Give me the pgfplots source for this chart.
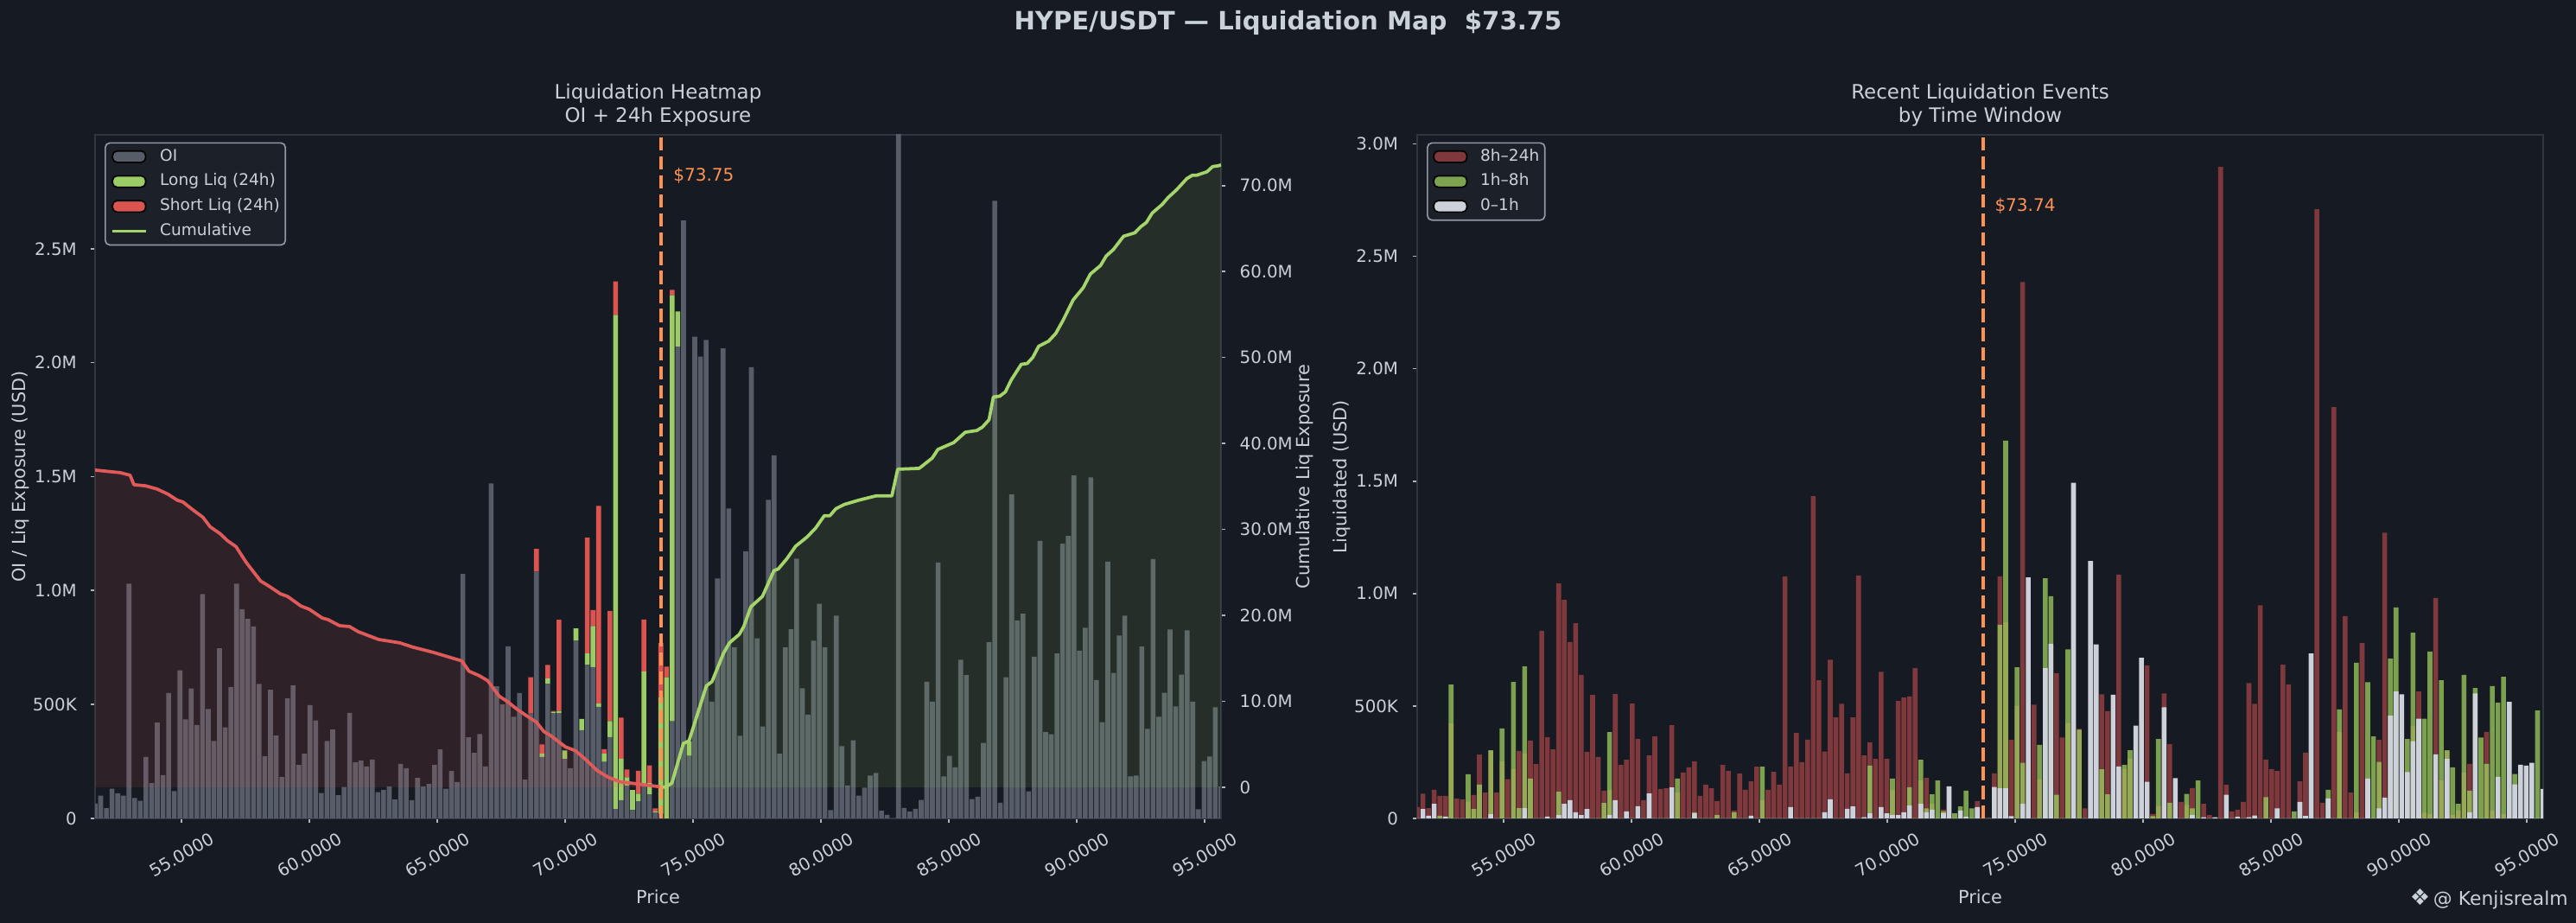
\documentclass[border=0pt]{standalone}
\usepackage{pgfplots}
\pgfplotsset{compat=1.18}
\usepackage{pgfplotstable}
\usepackage{fontspec}
\setmainfont{DejaVu Sans}
\definecolor{bgc}{HTML}{161A22}
\definecolor{spinec}{HTML}{30363D}
\definecolor{txtc}{HTML}{C9D1D9}
\definecolor{tickc}{HTML}{AEB5BD}
\definecolor{oic}{HTML}{565D68}
\definecolor{longc}{HTML}{9CCC65}
\definecolor{shortc}{HTML}{DB5450}
\definecolor{redline}{HTML}{E05A5A}
\definecolor{grline}{HTML}{A5D46A}
\definecolor{orangec}{HTML}{FF9252}
\definecolor{rwin}{HTML}{7F383C}
\definecolor{gwin}{HTML}{9FCF5E}
\definecolor{lwin}{HTML}{CDD2DA}
\definecolor{legbg}{HTML}{1C2129}
\definecolor{legc}{HTML}{9198A1}

\pgfplotsset{
  patchleg/.style={legend image code/.code={\fill[##1] (0pt,-3.15pt) rectangle (18.4pt,3.15pt);}},
  lineleg/.style={legend image code/.code={\draw[##1] (0pt,0pt) -- (18.4pt,0pt);}},
  base/.style={scale only axis, width=625.44pt, height=379.68pt, anchor=south west,
    xmin=51.62, xmax=95.64,
    axis line style={spinec, line width=0.8pt},
    tick align=outside, major tick length=2.6pt, tick style={tickc, line width=0.8pt},
    tick label style={font=\fontsize{9.5}{11.4}\selectfont, text=txtc},
    /pgf/number format/assume math mode=true,
    xtick={55,60,65,70,75,80,85,90,95},
    xticklabels={55.0000,60.0000,65.0000,70.0000,75.0000,80.0000,85.0000,90.0000,95.0000},
    xticklabel style={yshift=-17.7pt, rotate=30, anchor=center},
    legend cell align=left,
    legend style={at={(0,1)}, anchor=north west, xshift=5.3pt, yshift=-4.1pt,
      draw=legc, fill=legbg, rounded corners=2.5pt, line width=0.8pt,
      inner xsep=3.1pt, inner ysep=3.4pt, row sep=5.3pt, column sep=7.1pt,
      font=\fontsize{8.9}{10.5}\selectfont, text=txtc,
      nodes={inner sep=0pt, text height=6.6pt, text depth=1.9pt}},
  },
}

\pgfplotstableread{
i oi lg sh
0 0.065 0 0
1 0.100 0 0
2 0.045 0 0
3 0.130 0 0
4 0.110 0 0
5 0.100 0 0
6 1.030 0 0
7 0.090 0 0
8 0.077 0 0
9 0.270 0 0
10 0.155 0 0
11 0.420 0 0
12 0.190 0 0
13 0.550 0 0
14 0.120 0 0
15 0.650 0 0
16 0.435 0 0
17 0.570 0 0
18 0.410 0 0
19 0.985 0 0
20 0.480 0 0
21 0.340 0 0
22 0.747 0 0
23 0.400 0 0
24 0.577 0 0
25 1.030 0 0
26 0.918 0 0
27 0.876 0 0
28 0.842 0 0
29 0.590 0 0
30 0.273 0 0
31 0.565 0 0
32 0.364 0 0
33 0.182 0 0
34 0.527 0 0
35 0.584 0 0
36 0.235 0 0
37 0.284 0 0
38 0.497 0 0
39 0.430 0 0
40 0.111 0 0
41 0.340 0 0
42 0.390 0 0
43 0.102 0 0
44 0.138 0 0
45 0.463 0 0
46 0.246 0 0
47 0.254 0 0
48 0.228 0 0
49 0.258 0 0
50 0.115 0 0
51 0.125 0 0
52 0.140 0 0
53 0.083 0 0
54 0.239 0 0
55 0.220 0 0
56 0.080 0 0
57 0.178 0 0
58 0.140 0 0
59 0.151 0 0
60 0.235 0 0
61 0.303 0 0
62 0.130 0 0
63 0.208 0 0
64 0.160 0 0
65 1.073 0 0
66 0.356 0 0
67 0.288 0 0
68 0.370 0 0
69 0.228 0 0
70 1.470 0 0
71 0.580 0 0
72 0.500 0 0
73 0.755 0 0
74 0.446 0 0
75 0.550 0 0
76 0.170 0 0
77 0.460 0 0.160
78 1.083 0 0.100
79 0.270 0.015 0.040
80 0.590 0.024 0.060
81 0.462 0.006 0.004
82 0.462 0.010 0.400
83 0.260 0.038 0
84 0.220 0 0
85 0.780 0.054 0
86 0.387 0.050 0
87 0.674 0.050 0.508
88 0.664 0.180 0.070
89 0.490 0.014 0.867
90 0.248 0.036 0.020
91 0.357 0.070 0.484
92 0.040 2.170 0.147
93 0.080 0.182 0.180
94 0.145 0.036 0.034
95 0.036 0.089 0
96 0.075 0.034 0.100
97 0.145 0.500 0.228
98 0.105 0.050 0.078
99 0.026 0.004 0.014
100 0.020 0.510 0.240
101 0 0.620 0.046
102 0.426 1.870 0.024
103 2.070 0.155 0
104 2.624 0 0
105 0.274 0.065 0
106 2.114 0 0
107 2.027 0 0
108 2.100 0 0
109 0.512 0 0
110 1.053 0 0
111 2.063 0 0
112 1.360 0 0
113 0.750 0 0
114 0.363 0 0
115 1.172 0 0
116 1.980 0 0
117 0.790 0 0
118 0.403 0 0
119 1.398 0 0
120 1.593 0 0
121 0.284 0 0
122 0.750 0 0
123 0.830 0 0
124 1.140 0 0
125 0.571 0 0
126 0.456 0 0
127 0.780 0 0
128 0.942 0 0
129 0.750 0 0
130 0.036 0 0
131 0.890 0 0
132 0.317 0 0
133 0.145 0 0
134 0.343 0 0
135 0.100 0 0
136 0.135 0 0
137 0.188 0 0
138 0.200 0 0
139 0.034 0 0
140 0.016 0 0
141 0 0 0
142 3.300 0 0
143 0.046 0 0
144 0.030 0 0
145 0.042 0 0
146 0.081 0 0
147 0.600 0 0
148 0.512 0 0
149 1.123 0 0
150 0.184 0 0
151 0.274 0 0
152 0.224 0 0
153 0.696 0 0
154 0.629 0 0
155 0.085 0 0
156 0.095 0 0
157 0.331 0 0
158 0.773 0 0
159 2.710 0 0
160 0.069 0 0
161 0.620 0 0
162 1.422 0 0
163 0.869 0 0
164 0.898 0 0
165 0.119 0 0
166 0.710 0 0
167 1.218 0 0
168 0.379 0 0
169 0.369 0 0
170 0.724 0 0
171 1.206 0 0
172 1.240 0 0
173 1.505 0 0
174 0.736 0 0
175 0.837 0 0
176 1.497 0 0
177 0.607 0 0
178 0.422 0 0
179 1.127 0 0
180 0.639 0 0
181 0.803 0 0
182 0.890 0 0
183 0.184 0 0
184 0.188 0 0
185 0.754 0 0
186 0.393 0 0
187 1.138 0 0
188 0.446 0 0
189 0.551 0 0
190 0.829 0 0
191 0.492 0 0
192 0.631 0 0
193 0.825 0 0
194 0.512 0 0
195 0.040 0 0
196 0.252 0 0
197 0.272 0 0
198 0.488 0 0
199 0.140 0 0
}\Ltab

\pgfplotstableread{
i r g l
0 0.050 0 0
1 0.110 0 0.042
2 0.046 0 0.012
3 0.127 0 0.065
4 0.100 0.012 0
5 0.100 0 0.008
6 0.423 0.595 0
7 0.088 0 0
8 0.085 0 0
9 0.074 0.196 0
10 0.104 0.042 0
11 0.284 0.150 0
12 0.115 0 0
13 0.300 0.303 0.019
14 0.115 0 0
15 0.254 0.400 0
16 0.174 0 0
17 0.219 0.607 0
18 0.300 0.046 0
19 0.289 0.676 0.046
20 0.346 0.177 0
21 0.242 0 0
22 0.834 0 0
23 0.361 0 0.008
24 0.307 0 0
25 1.045 0.119 0.015
26 0.972 0 0.065
27 0.784 0 0.081
28 0.868 0 0.027
29 0.638 0 0.015
30 0.296 0 0.042
31 0.549 0 0
32 0.273 0 0
33 0.123 0.069 0
34 0.127 0.384 0.015
35 0.553 0 0.081
36 0.238 0 0
37 0.261 0 0.031
38 0.511 0 0
39 0.353 0 0.054
40 0.081 0 0
41 0.280 0 0.111
42 0.365 0 0
43 0.131 0 0
44 0.134 0 0
45 0.415 0 0.138
46 0.115 0.177 0
47 0.204 0 0
48 0.227 0 0
49 0.254 0.027 0.023
50 0.100 0 0
51 0.150 0 0
52 0.134 0 0
53 0.077 0.015 0
54 0.238 0 0
55 0.211 0 0
56 0.035 0.027 0
57 0.200 0 0
58 0.127 0 0
59 0.165 0 0.012
60 0.230 0 0
61 0.081 0.230 0
62 0.127 0 0
63 0.207 0 0
64 0.150 0 0
65 1.076 0 0
66 0.230 0 0.050
67 0.380 0 0
68 0.250 0 0
69 0.350 0 0
70 1.433 0 0
71 0.614 0 0
72 0.297 0 0.027
73 0.706 0 0.085
74 0.449 0 0
75 0.510 0 0
76 0.200 0 0.043
77 0.449 0 0.053
78 1.080 0 0
79 0.280 0 0.005
80 0.339 0.235 0.023
81 0.265 0 0
82 0.652 0 0.050
83 0.265 0 0.023
84 0.125 0.177 0.015
85 0.522 0 0.015
86 0.538 0 0.027
87 0.542 0.139 0.057
88 0.668 0 0
89 0.169 0.261 0.065
90 0.180 0.045 0.027
91 0.065 0.107 0.039
92 0 0.169 0
93 0.039 0.031 0.023
94 0 0 0.143
95 0 0.023 0
96 0 0.053 0.035
97 0 0.123 0.007
98 0 0.045 0
99 0.077 0 0.050
100 0 0 0
101 0 0 0
102 0.200 0 0.140
103 1.077 0.861 0.134
104 0.872 1.680 0.134
105 0.349 0 0.010
106 0.500 0.672 0
107 2.385 0.247 0.065
108 0 0 1.072
109 0.506 0 0
110 0.173 0.327 0
111 0 1.068 0.668
112 0 0.988 0.776
113 0.646 0.105 0
114 0.360 0 0
115 0.424 0.752 0
116 0 0 1.493
117 0.398 0.394 0
118 0.045 0 0
119 0 0 1.145
120 0 0 0.774
121 0.552 0.219 0
122 0.477 0.107 0
123 0 0 0.550
124 1.084 0 0.231
125 0.220 0.238 0
126 0.265 0.303 0
127 0 0 0.413
128 0 0 0.714
129 0.680 0 0.163
130 0.020 0.010 0
131 0.055 0.353 0
132 0.556 0 0.494
133 0.330 0.070 0
134 0 0 0.179
135 0.073 0 0
136 0.060 0.109 0
137 0.135 0.045 0.015
138 0 0.169 0
139 0.065 0 0.005
140 0.015 0 0
141 0 0 0.005
142 2.897 0 0
143 0.149 0 0.105
144 0.031 0 0
145 0.039 0 0.007
146 0.073 0 0
147 0.602 0 0.005
148 0.510 0 0.013
149 0.948 0 0
150 0.261 0.095 0
151 0.219 0 0
152 0.211 0 0.045
153 0.684 0 0
154 0.596 0 0
155 0 0.031 0
156 0.165 0 0.073
157 0.293 0 0.011
158 0 0 0.734
159 2.709 0 0
160 0.070 0 0
161 0 0.127 0.089
162 1.829 0 0
163 0.385 0.485 0
164 0.900 0 0
165 0.115 0 0
166 0.025 0.692 0
167 0.780 0 0
168 0 0.606 0.177
169 0 0.365 0
170 0.349 0.251 0.045
171 1.271 0 0.093
172 0 0.710 0.457
173 0 0.938 0.564
174 0 0 0.552
175 0 0.353 0.206
176 0.410 0.826 0.343
177 0.564 0 0.443
178 0.025 0.443 0
179 0.020 0.742 0
180 0.980 0 0.285
181 0.169 0.614 0
182 0.300 0.303 0.265
183 0.015 0.227 0
184 0.035 0.065 0
185 0.203 0.638 0
186 0.243 0.123 0.027
187 0 0.580 0.556
188 0 0.360 0
189 0.385 0.243 0
190 0.035 0.588 0
191 0 0.514 0.185
192 0.020 0.630 0
193 0 0 0.518
194 0 0.197 0.151
195 0 0 0.239
196 0 0 0.235
197 0 0 0.247
198 0 0.480 0
199 0 0 0.131
}\Rtab

\pgfplotstableread{
x y
51.62 36.9
52.60 36.6
52.99 36.3
53.14 35.2
53.59 35.07
54.04 34.7
54.49 34.07
54.83 33.4
55.05 33.2
55.39 32.4
55.84 31.4
56.12 30.3
56.51 29.5
56.79 28.7
57.13 28.0
57.52 26.2
58.09 24.0
58.42 23.4
58.87 22.5
59.15 22.2
59.66 21.1
60.00 20.7
60.50 19.7
60.73 19.5
61.18 18.8
61.57 18.7
61.91 18.1
62.70 17.2
63.54 16.8
64.05 16.3
64.84 15.7
65.40 15.2
65.96 14.7
66.24 13.5
66.63 13.0
66.97 12.4
67.42 10.6
67.76 9.94
68.09 9.14
68.55 8.2
68.88 7.57
69.16 6.5
69.44 6.0
70.01 4.7
70.40 4.26
70.79 3.26
71.25 1.95
71.69 1.16
72.14 0.64
72.59 0.48
73.27 0.22
73.72 0.06
}\RedCum

\pgfplotstableread{
x y
73.75 0
73.94 0.06
74.17 0.48
74.62 5.1
74.84 5.4
75.52 11.8
75.74 12.3
76.19 15.6
76.42 16.8
76.81 17.8
76.98 18.7
77.26 21.0
77.71 22.2
78.16 25.2
78.33 25.4
78.67 26.6
79.01 28.05
79.45 29.1
79.79 30.15
80.13 31.6
80.35 31.6
80.58 32.4
80.91 32.9
81.48 33.4
82.15 33.9
82.77 33.9
83.00 37.0
83.84 37.1
84.35 38.3
84.57 39.3
85.19 40.1
85.64 41.3
86.09 41.5
86.31 41.9
86.57 42.75
86.74 45.4
86.99 45.5
87.21 46.0
87.44 47.4
87.83 49.2
88.06 49.3
88.28 50.0
88.51 51.3
88.90 51.9
89.18 52.8
89.46 54.3
89.86 56.7
90.25 58.1
90.53 59.7
90.93 60.7
91.15 61.8
91.43 62.55
91.83 64.1
92.27 64.5
92.50 65.2
92.72 65.7
92.95 66.8
93.34 67.8
93.57 68.6
93.90 69.5
94.30 70.8
94.52 71.2
94.69 71.2
95.09 71.6
95.31 72.2
95.54 72.3
95.64 72.4
}\GreenCum

\begin{document}
\begin{tikzpicture}
\path[use as bounding box, fill=bgc] (0,0) rectangle (1430.88pt,512.64pt);

% ---------- left chart: primary axis (bars)
\begin{axis}[base, at={(52.8pt,58.08pt)},
  ymin=0, ymax=3.0,
  ybar stacked, bar width=0.19,
  xtick pos=bottom, ytick pos=left,
  ytick={0,0.5,1,1.5,2,2.5},
  yticklabels={0,500K,1.0M,1.5M,2.0M,2.5M},
  yticklabel style={anchor=east, inner xsep=0pt, xshift=-7.4pt},
]
\addplot[fill=oic, draw=none] table[x expr=51.62+0.2212*\thisrow{i}, y=oi]{\Ltab};
\addplot[fill=longc, draw=none] table[x expr=51.62+0.2212*\thisrow{i}, y=lg]{\Ltab};
\addplot[fill=shortc, draw=none] table[x expr=51.62+0.2212*\thisrow{i}, y=sh]{\Ltab};
\end{axis}

% ---------- left chart: secondary axis (cumulative)
\begin{axis}[base, at={(52.8pt,58.08pt)},
  ymin=-3.62, ymax=75.9,
  axis x line=none, axis y line*=right,
  ytick={0,10,20,30,40,50,60,70},
  yticklabels={0,10.0M,20.0M,30.0M,40.0M,50.0M,60.0M,70.0M},
  yticklabel style={anchor=west, inner xsep=0pt, xshift=7.6pt},
]
\addplot[fill=redline, fill opacity=0.12, draw=none, forget plot] table[x=x,y=y]{\RedCum} \closedcycle;
\addplot[fill=grline, fill opacity=0.11, draw=none, forget plot] table[x=x,y=y]{\GreenCum} \closedcycle;
\addplot[redline, line width=1.8pt, line join=round, forget plot] table[x=x,y=y]{\RedCum};
\addplot[grline, line width=1.8pt, line join=round, forget plot] table[x=x,y=y]{\GreenCum};
\addplot[orangec, line width=1.8pt, dash pattern=on 7.4pt off 3.2pt, forget plot] coordinates {(73.75,-3.62) (73.75,75.9)};
\node[text=orangec, anchor=west, inner sep=0pt, font=\fontsize{9.6}{11.5}\selectfont] at (axis cs:74.22,71.15) {\$73.75};
\addlegendimage{patchleg, fill=oic}
\addlegendentry{OI}
\addlegendimage{patchleg, fill=longc}
\addlegendentry{Long Liq (24h)}
\addlegendimage{patchleg, fill=shortc}
\addlegendentry{Short Liq (24h)}
\addlegendimage{lineleg, grline, line width=1.8pt}
\addlegendentry{Cumulative}
\end{axis}

% ---------- right chart
\begin{axis}[base, at={(787.2pt,58.08pt)},
  ymin=0, ymax=3.04,
  xtick pos=bottom, ytick pos=left,
  ytick={0,0.5,1,1.5,2,2.5,3},
  yticklabels={0,500K,1.0M,1.5M,2.0M,2.5M,3.0M},
  yticklabel style={anchor=east, inner xsep=0pt, xshift=-7.8pt},
]
\addplot[ybar, bar width=0.19, bar shift=0pt, fill=rwin, draw=none, forget plot] table[x expr=51.62+0.2212*\thisrow{i}, y=r]{\Rtab};
\addplot[ybar, bar width=0.19, bar shift=0pt, fill=gwin, fill opacity=0.75, draw=none, forget plot] table[x expr=51.62+0.2212*\thisrow{i}, y=g]{\Rtab};
\addplot[ybar, bar width=0.19, bar shift=0pt, fill=lwin, draw=none, forget plot] table[x expr=51.62+0.2212*\thisrow{i}, y=l]{\Rtab};
\addplot[orangec, line width=1.8pt, dash pattern=on 7.4pt off 3.2pt, forget plot] coordinates {(73.74,0) (73.74,3.04)};
\node[text=orangec, anchor=west, inner sep=0pt, font=\fontsize{9.6}{11.5}\selectfont] at (axis cs:74.19,2.722) {\$73.74};
\addlegendimage{patchleg, fill=rwin}
\addlegendentry{8h–24h}
\addlegendimage{patchleg, fill=gwin, fill opacity=0.75}
\addlegendentry{1h–8h}
\addlegendimage{patchleg, fill=lwin}
\addlegendentry{0–1h}
\end{axis}

% ---------- texts
\node[text=txtc, font=\bfseries\fontsize{14}{17}\selectfont] at (715.44pt,499.9pt) {HYPE/USDT — Liquidation Map\ \ \$73.75};
\begin{scope}[every node/.style={text=txtc, font=\fontsize{11}{13}\selectfont, inner sep=0pt, text height=8pt, text depth=2.2pt}]
\node at (365.52pt,460.6pt) {Liquidation Heatmap};
\node at (365.52pt,447.6pt) {OI + 24h Exposure};
\node at (1099.92pt,460.6pt) {Recent Liquidation Events};
\node at (1099.92pt,447.6pt) {by Time Window};
\end{scope}
\begin{scope}[every node/.style={text=txtc, font=\fontsize{10}{12}\selectfont, inner sep=0pt, text height=7.4pt, text depth=2pt}]
\node at (365.52pt,13.4pt) {Price};
\node at (1099.92pt,13.4pt) {Price};
\node[rotate=90] at (11.5pt,247.9pt) {OI / Liq Exposure (USD)};
\node[rotate=90] at (724.5pt,247.9pt) {Cumulative Liq Exposure};
\node[rotate=90] at (745.6pt,247.9pt) {Liquidated (USD)};
\end{scope}
\node[anchor=east, inner sep=0pt, text=txtc, font=\fontsize{10.5}{12}\selectfont] at (1426.6pt,13.4pt) {{\fontsize{12.5}{12.5}\selectfont ❖}\,@ Kenjisrealm};
\end{tikzpicture}
\end{document}
